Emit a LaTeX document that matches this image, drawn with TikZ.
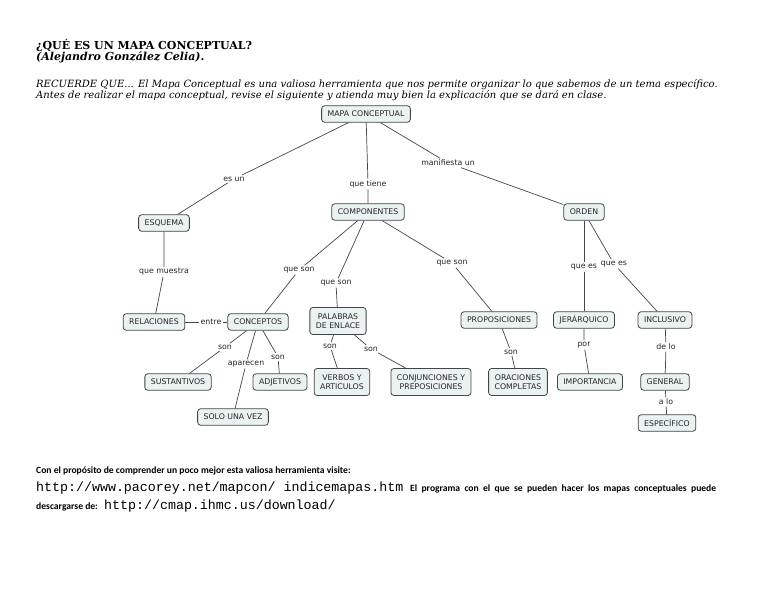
\documentclass[tikz,border=0pt]{standalone}
\usepackage{fontspec}
\setmainfont{DejaVu Serif}
\setsansfont{DejaVu Sans}
\newfontfamily\calibri{Carlito}
\newfontfamily\courier{Liberation Mono}
\usepackage{tikz}

\definecolor{cajafondo}{RGB}{234,242,242}
\definecolor{cajaborde}{RGB}{68,68,68}
\definecolor{enlace}{RGB}{70,70,70}

\tikzset{
	concepto/.style={shape=rectangle, rounded corners=3pt, draw=cajaborde, fill=cajafondo, line width=0.8pt, font=\sffamily\fontsize{7.8}{9.5}\selectfont, align=center, inner xsep=6pt, inner ysep=3pt, minimum height=16.5pt, text=black!85},
	doble/.style={minimum height=27pt},
	frase/.style={font=\sffamily\fontsize{7.8}{9.5}\selectfont, inner sep=1.5pt, text=black!85},
	linea/.style={draw=enlace, line width=0.7pt},
	texto/.style={anchor=base west, inner sep=0pt},
	pie/.style={texto, font=\calibri\bfseries\fontsize{9.6}{11}\selectfont},
	web/.style={texto, font=\courier\fontsize{13.3}{15}\selectfont},
}

\begin{document}
\begin{tikzpicture}[x=1pt, y=-1pt]
	\path[use as bounding box, fill=white] (0,0) rectangle (768,594);

	\node[texto, font=\bfseries\fontsize{11}{13}\selectfont] (titulo) at (36,49) {¿QUÉ ES UN MAPA CONCEPTUAL?};
	\node[texto, font=\bfseries\itshape\fontsize{11}{13}\selectfont] (autor) at (36,61) {(Alejandro González Celia).};
	\node[texto, font=\itshape\fontsize{10}{12}\selectfont] (nota1) at (36,87) {RECUERDE QUE... El Mapa Conceptual es una valiosa herramienta que nos permite organizar lo que sabemos de un tema específico.};
	\node[texto, font=\itshape\fontsize{10}{12}\selectfont] (nota2) at (36,98) {Antes de realizar el mapa conceptual, revise el siguiente y atienda muy bien la explicación que se dará en clase.};

	\node[concepto] (mapa) at (366,114) {MAPA CONCEPTUAL};
	\node[concepto] (esquema) at (164,223) {ESQUEMA};
	\node[concepto] (componentes) at (368,212) {COMPONENTES};
	\node[concepto] (orden) at (584,212) {ORDEN};
	\node[concepto] (relaciones) at (154,322) {RELACIONES};
	\node[concepto] (conceptos) at (258,322) {CONCEPTOS};
	\node[concepto, doble] (palabras) at (338,321) {PALABRAS\\DE ENLACE};
	\node[concepto] (proposiciones) at (499,320) {PROPOSICIONES};
	\node[concepto] (jerarquico) at (584,320) {JERÁRQUICO};
	\node[concepto] (inclusivo) at (665,320) {INCLUSIVO};
	\node[concepto] (sustantivos) at (178,382) {SUSTANTIVOS};
	\node[concepto] (adjetivos) at (280,382) {ADJETIVOS};
	\node[concepto, doble] (verbos) at (342,382) {VERBOS Y\\ARTICULOS};
	\node[concepto, doble] (conjunciones) at (431,382) {CONJUNCIONES Y\\PREPOSICIONES};
	\node[concepto] (solo) at (233,417) {SOLO UNA VEZ};
	\node[concepto, doble] (oraciones) at (518,382) {ORACIONES\\COMPLETAS};
	\node[concepto] (importancia) at (590,382) {IMPORTANCIA};
	\node[concepto] (general) at (665,382) {GENERAL};
	\node[concepto] (especifico) at (667,423) {ESPECÍFICO};

	\node[frase] (esun) at (234,179) {es un};
	\node[frase] (tiene) at (368,184) {que tiene};
	\node[frase] (manifiesta) at (448,163) {manifiesta un};
	\node[frase] (muestra) at (164,272) {que muestra};
	\node[frase] (queson1) at (299,270) {que son};
	\node[frase] (queson2) at (336,283) {que son};
	\node[frase] (queson3) at (452,263) {que son};
	\node[frase] (quees1) at (584,267) {que es};
	\node[frase] (quees2) at (614,264) {que es};
	\node[frase] (entre) at (211,322) {entre};
	\node[frase] (son1) at (225,347) {son};
	\node[frase] (aparecen) at (246,364) {aparecen};
	\node[frase] (son2) at (278,357) {son};
	\node[frase] (son3) at (330,346) {son};
	\node[frase] (son4) at (371,349) {son};
	\node[frase] (son5) at (511,352) {son};
	\node[frase] (por) at (584,345) {por};
	\node[frase] (delo) at (666,347) {de lo};
	\node[frase] (alo) at (666,402) {a lo};

	\draw[linea] (mapa) -- (esun) -- (esquema);
	\draw[linea] (mapa) -- (tiene) -- (componentes);
	\draw[linea] (mapa) -- (manifiesta) -- (orden);
	\draw[linea] (esquema) -- (muestra) -- (relaciones);
	\draw[linea] (relaciones) -- (entre) -- (conceptos);
	\draw[linea] (componentes) -- (queson1) -- (conceptos);
	\draw[linea] (componentes) -- (queson2) -- (palabras);
	\draw[linea] (componentes) -- (queson3) -- (proposiciones);
	\draw[linea] (orden) -- (quees1) -- (jerarquico);
	\draw[linea] (orden) -- (quees2) -- (inclusivo);
	\draw[linea] (conceptos) -- (son1) -- (sustantivos);
	\draw[linea] (conceptos) -- (aparecen) -- (solo);
	\draw[linea] (conceptos) -- (son2) -- (adjetivos);
	\draw[linea] (palabras) -- (son3) -- (verbos);
	\draw[linea] (palabras) -- (son4) -- (conjunciones);
	\draw[linea] (proposiciones) -- (son5) -- (oraciones);
	\draw[linea] (jerarquico) -- (por) -- (importancia);
	\draw[linea] (inclusivo) -- (delo) -- (general);
	\draw[linea] (general) -- (alo) -- (especifico);

	\node[pie] (visite) at (36,473) {Con el propósito de comprender un poco mejor esta valiosa herramienta visite:};
	\node[web] (url1) at (36,491) {http://www.pacorey.net/mapcon/ indicemapas.htm};
	\node[pie] (programa) at (410,491) {\makebox[306pt][s]{El programa con el que se pueden hacer los mapas conceptuales puede}};
	\node[pie] (descarga) at (36,509) {descargarse de:};
	\node[web] (url2) at (104,509) {http://cmap.ihmc.us/download/};
\end{tikzpicture}
\end{document}
